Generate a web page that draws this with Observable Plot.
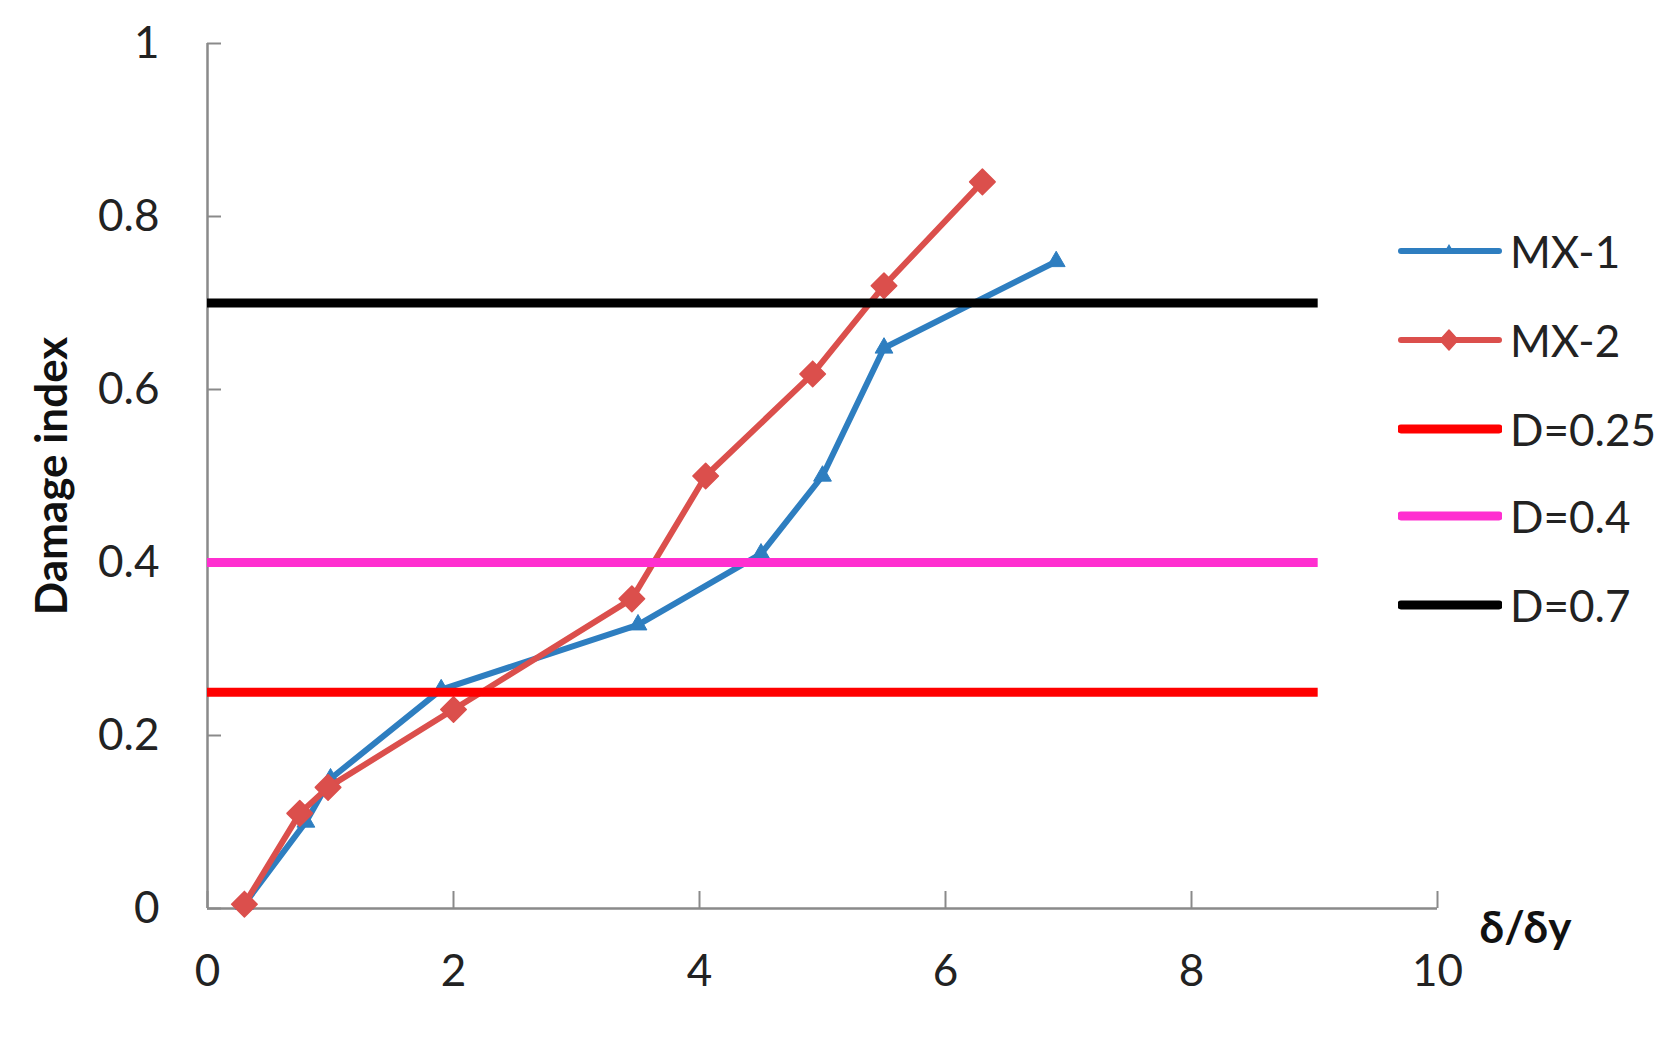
<!DOCTYPE html>
<html>
<head>
<meta charset="utf-8">
<script src="https://cdn.jsdelivr.net/npm/d3@7"></script>
<script src="https://cdn.jsdelivr.net/npm/@observablehq/plot@0.6"></script>
<style>
  html, body { margin: 0; padding: 0; background: #fff; }
  #wrap { position: relative; width: 1669px; height: 1040px; font-family: Lato, "Open Sans", sans-serif; }
  #legend { position: absolute; left: 1398px; top: 0; }
  .item { position: absolute; left: 0; height: 60px; display: flex; align-items: center; white-space: nowrap; }
  .item span { font-size: 44px; color: #222; margin-left: 8px; line-height: 1; }
</style>
</head>
<body>
<div id="wrap"><div id="legend"></div></div>
<script>
// ---- data ----
const mx1X = [0.3, 0.8, 1.0, 1.9, 3.5, 4.5, 5.0, 5.5, 6.9];
const mx1Y = [0.005, 0.1, 0.15, 0.253, 0.328, 0.41, 0.5, 0.648, 0.748];
const mx2X = [0.3, 0.75, 0.98, 2.0, 3.45, 4.05, 4.92, 5.5, 6.3];
const mx2Y = [0.005, 0.11, 0.14, 0.23, 0.358, 0.5, 0.618, 0.72, 0.84];
const thresholdNames = ["D=0.25", "D=0.4", "D=0.7"];
const thresholdValues = [0.25, 0.4, 0.7];
const thresholdEnd = 9.03;
const xTicks = [0, 2, 4, 6, 8, 10];
const yTicks = [0, 0.2, 0.4, 0.6, 0.8, 1];
const seriesNames = ["MX-1", "MX-2"];

// ---- styles ----
const colMX1 = "#2E7EC0", colMX2 = "#DB4F4C";
const thresholdColors = ["#FF0000", "#FF2FD0", "#000000"];

const mx1 = mx1X.map((x, i) => ({x, y: mx1Y[i]}));
const mx2 = mx2X.map((x, i) => ({x, y: mx2Y[i]}));
const thresholds = thresholdValues.map((v, i) => ({name: thresholdNames[i], value: v, color: thresholdColors[i]}));

const W = 1669, H = 1040, mL = 207, mR = 232, mT = 43, mB = 132;
const plotW = W - mL - mR, plotH = H - mT - mB;
const axisColor = "#8a8a8a";

const chart = Plot.plot({
  width: W, height: H,
  marginLeft: mL, marginRight: mR, marginTop: mT, marginBottom: mB,
  style: {fontFamily: "Lato, 'Open Sans', sans-serif", background: "#fff", color: "#222"},
  x: {domain: [0, 10], ticks: xTicks},
  y: {domain: [0, 1], ticks: yTicks},
  color: {type: "identity"},
  marks: [
    Plot.axisX(xTicks, {tickSize: 0, tickPadding: 46, fontSize: 44, label: null, tickFormat: d => String(d), fill: "#222"}),
    Plot.axisY(yTicks, {tickSize: 0, tickPadding: 48, fontSize: 44, label: null, tickFormat: d => String(d), fill: "#222"}),
    Plot.tickX(xTicks, {x: d => d, insetTop: plotH - 17, stroke: axisColor, strokeWidth: 2}),
    Plot.tickY(yTicks, {y: d => d, insetRight: plotW - 14, stroke: axisColor, strokeWidth: 2}),
    Plot.ruleY([0], {stroke: axisColor, strokeWidth: 2.5}),
    Plot.ruleX([0], {stroke: axisColor, strokeWidth: 2.5}),
    Plot.line(mx1, {x: "x", y: "y", stroke: colMX1, strokeWidth: 6, strokeLinejoin: "round"}),
    Plot.dot(mx1, {x: "x", y: "y", symbol: "triangle2", r: 8.5, fill: colMX1, stroke: colMX1, strokeWidth: 1}),
    Plot.line(mx2, {x: "x", y: "y", stroke: colMX2, strokeWidth: 6, strokeLinejoin: "round"}),
    Plot.dot(mx2, {x: "x", y: "y", symbol: "diamond2", r: 11.5, fill: colMX2, stroke: colMX2, strokeWidth: 1.5, strokeLinejoin: "round"}),
    Plot.ruleY(thresholds, {y: "value", x1: 0, x2: thresholdEnd, stroke: "color", strokeWidth: 9}),
    Plot.text(["Damage index"], {frameAnchor: "left", textAnchor: "middle", lineAnchor: "middle", dx: -155, rotate: -90, fontSize: 44, fontWeight: "bold", fill: "#111"}),
    Plot.text(["δ/δy"], {frameAnchor: "bottom-right", textAnchor: "middle", lineAnchor: "middle", dx: 88, dy: 20, fontSize: 44, fontWeight: "bold", fill: "#111"})
  ]
});
document.getElementById("wrap").prepend(chart);

// ---- legend ----
const legendItems = [
  {name: seriesNames[0], color: colMX1, w: 6, marker: "tri"},
  {name: seriesNames[1], color: colMX2, w: 6, marker: "dia"},
  ...thresholds.map(t => ({name: t.name, color: t.color, w: 9, marker: null}))
];
const rowY = [251, 340, 429, 516, 605];
const leg = document.getElementById("legend");
legendItems.forEach((it, i) => {
  const div = document.createElement("div");
  div.className = "item";
  div.style.top = (rowY[i] - 30) + "px";
  let m = "";
  if (it.marker === "tri") m = `<path d="M51,23 L57,33 L45,33 Z" fill="${it.color}"/>`;
  if (it.marker === "dia") m = `<path d="M51,20 L60,30 L51,40 L42,30 Z" fill="${it.color}" stroke="${it.color}" stroke-linejoin="round" stroke-width="1.5"/>`;
  div.innerHTML = `<svg width="104" height="60"><line x1="3" x2="101" y1="30" y2="30" stroke="${it.color}" stroke-width="${it.w}" stroke-linecap="round"/>${m}</svg><span>${it.name}</span>`;
  leg.appendChild(div);
});
</script>
</body>
</html>
